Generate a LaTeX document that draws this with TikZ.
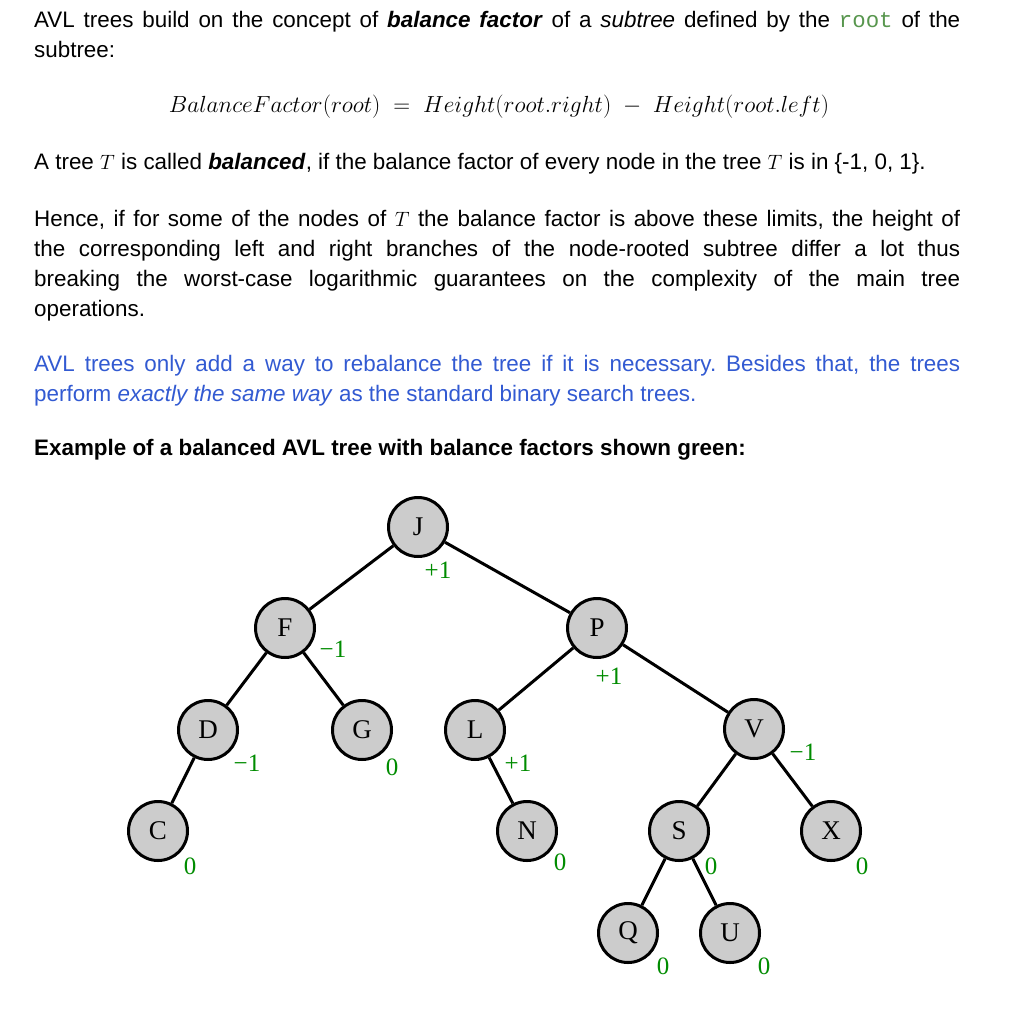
\documentclass[tikz,border=0pt]{standalone}
\usepackage{fontspec}
\usepackage{graphicx}
\setmainfont{Liberation Sans}
\setmonofont{Liberation Mono}
\newfontfamily\treefont{Liberation Serif}
\definecolor{codegreen}{RGB}{88,150,78}
\definecolor{bfgreen}{RGB}{0,140,0}
\definecolor{linkblue}{RGB}{50,90,210}
\definecolor{nodegray}{RGB}{204,204,204}
\begin{document}
\frenchspacing
\begin{tikzpicture}[x=1pt,y=-1pt,
  para/.style={anchor=base west, inner sep=0pt, text width=926pt, align=justify,
    font=\fontsize{22.4}{30}\selectfont},
  tnode/.style={circle, draw=black, line width=3pt, fill=nodegray, minimum size=59pt,
    inner sep=0pt, font=\treefont\fontsize{27}{27}\selectfont},
  edge/.style={line width=3pt, black},
  bf/.style={inner sep=0pt, anchor=center, text=bfgreen, font=\treefont\fontsize{25}{25}\selectfont}]
\useasboundingbox (0,0) rectangle (1024,1019);
\fill[white] (0,0) rectangle (1024,1019);

\node[para] (p1) at (34,28) {AVL trees build on the concept of \textbf{\textit{balance factor}} of a \textit{subtree} defined by the {\ttfamily\color{codegreen}root} of the\linebreak subtree:};
\node[inner sep=0pt, anchor=center, font=\fontsize{20.74}{20.74}\selectfont] (f) at (499,107)
  {\scalebox{1.125}{$BalanceFactor(root)\;=\;Height(root.right)\;-\;Height(root.left)$}};
\node[para] (p2) at (34,169) {A tree $T$ is called \textbf{\textit{balanced}}, if the balance factor of every node in the tree $T$ is in \{-1, 0, 1\}.};
\node[para] (p3) at (34,226) {Hence, if for some of the nodes of $T$ the balance factor is above these limits, the height of\linebreak the corresponding left and right branches of the node-rooted subtree differ a lot thus\linebreak breaking the worst-case logarithmic guarantees on the complexity of the main tree\linebreak operations.};
\node[para, text=linkblue] (p4) at (34,371) {AVL trees only add a way to rebalance the tree if it is necessary. Besides that, the trees\linebreak perform \textit{exactly the same way} as the standard binary search trees.};
\node[para] (p5) at (34,455) {\textbf{Example of a balanced AVL tree with balance factors shown green:}};

% tree nodes
\node[tnode] (J) at (418,527) {J};
\node[tnode] (F) at (285,628) {F};
\node[tnode] (P) at (597,628) {P};
\node[tnode] (D) at (208,730) {D};
\node[tnode] (G) at (362,730) {G};
\node[tnode] (L) at (475,730) {L};
\node[tnode] (V) at (754,729) {V};
\node[tnode] (C) at (158,831) {C};
\node[tnode] (N) at (527,831) {N};
\node[tnode] (S) at (679,831) {S};
\node[tnode] (X) at (831,831) {X};
\node[tnode] (Q) at (628,933) {Q};
\node[tnode] (U) at (730,933) {U};

\draw[edge] (J) -- (F);
\draw[edge] (J) -- (P);
\draw[edge] (F) -- (D);
\draw[edge] (F) -- (G);
\draw[edge] (D) -- (C);
\draw[edge] (P) -- (L);
\draw[edge] (P) -- (V);
\draw[edge] (L) -- (N);
\draw[edge] (V) -- (S);
\draw[edge] (V) -- (X);
\draw[edge] (S) -- (Q);
\draw[edge] (S) -- (U);

% balance factors
\node[bf] (bJ) at (438,570) {+1};
\node[bf] (bF) at (333,649) {−1};
\node[bf] (bD) at (247,763) {−1};
\node[bf] (bG) at (392,767) {0};
\node[bf] (bL) at (518,763) {+1};
\node[bf] (bC) at (190,866) {0};
\node[bf] (bN) at (560,862) {0};
\node[bf] (bP) at (609,676) {+1};
\node[bf] (bV) at (803,752) {−1};
\node[bf] (bS) at (711,866) {0};
\node[bf] (bX) at (862,866) {0};
\node[bf] (bQ) at (663,966) {0};
\node[bf] (bU) at (764,966) {0};
\end{tikzpicture}
\end{document}
